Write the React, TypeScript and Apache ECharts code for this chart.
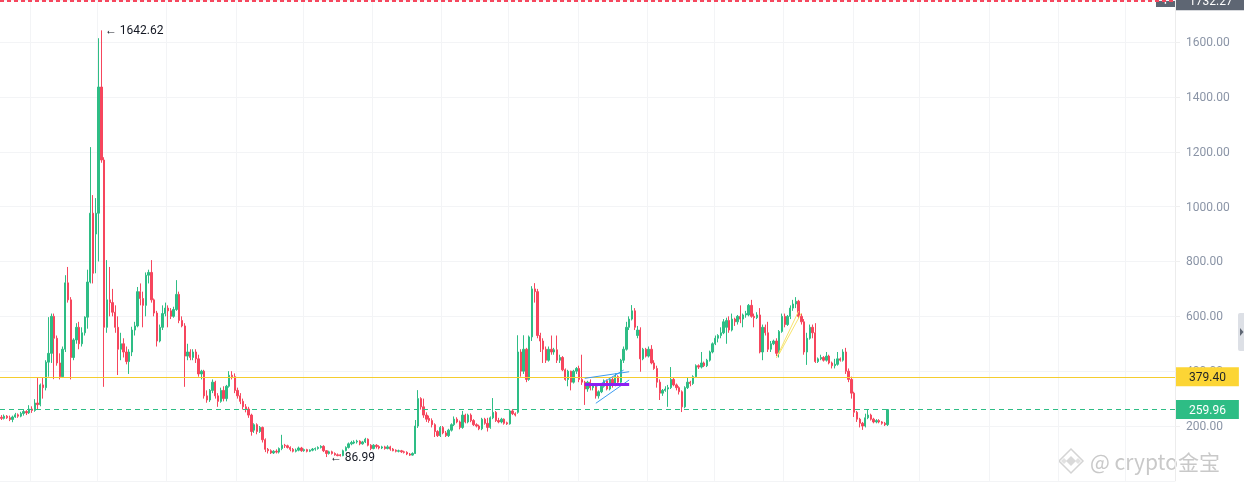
import React, { useEffect, useRef } from "react";
import * as echarts from "echarts";

// [open, close, low, high]
const candles: number[][] = [
  [232,228,222,240],[228,236,224,242],[236,230,226,240],[230,224,218,238],[224,233,214,238],
  [233,241,230,248],[241,236,230,246],[236,246,232,252],[246,253,238,262],[253,248,240,258],
  [248,262,244,276],[262,257,248,272],[257,284,252,298],[284,278,262,375],[278,350,272,355],
  [350,340,300,375],[340,433,330,440],[433,465,380,597],[465,600,430,610],[600,520,371,610],
  [520,430,420,530],[430,380,370,465],[380,480,375,490],[480,722,470,750],[722,660,650,780],
  [660,450,370,670],[450,514,440,520],[514,560,500,575],[560,500,480,580],[500,540,490,560],
  [540,597,530,600],[597,725,555,770],[725,976,720,1217],[976,757,720,1042],[900,976,757,1031],
  [976,1436,800,1614],[1436,1170,1160,1642.62],[1170,560,343,1180],[560,660,540,805],[660,650,600,780],
  [650,615,600,700],[615,560,540,640],[560,480,386,600],[480,500,440,540],[500,470,450,520],
  [470,435,425,490],[435,470,390,480],[470,550,455,562],[550,565,530,580],[565,690,560,707],
  [690,665,640,720],[665,640,560,690],[640,750,600,760],[750,760,720,770],[760,660,650,805],
  [660,612,600,665],[612,510,490,620],[510,560,505,570],[560,610,550,640],[610,630,600,650],
  [630,620,560,640],[620,600,590,630],[600,625,595,635],[625,680,620,732],[680,585,575,690],
  [585,565,560,600],[565,455,343,575],[455,470,440,500],[470,450,440,480],[450,470,440,480],
  [470,445,430,480],[445,390,380,460],[390,400,370,405],[400,310,300,405],[310,295,285,330],
  [295,330,288,335],[330,360,320,370],[360,310,300,365],[310,290,270,320],[290,330,285,340],
  [330,300,290,345],[300,345,290,350],[345,385,340,400],[385,380,370,400],[380,330,320,392],
  [330,310,300,340],[310,290,280,320],[290,270,260,300],[270,262,250,280],[262,240,230,270],
  [240,180,165,245],[185,205,175,210],[205,180,170,210],[180,195,175,200],[195,150,140,198],
  [150,115,105,155],[115,110,100,120],[110,102,98,115],[102,108,98,112],[108,105,100,115],
  [105,118,100,122],[118,130,112,168],[130,128,120,135],[128,122,118,132],[122,115,108,126],
  [115,108,104,120],[108,112,104,118],[112,120,108,125],[120,110,106,124],[110,114,106,118],
  [114,108,104,117],[108,112,105,115],[112,116,108,120],[116,118,110,122],[118,122,114,126],
  [122,126,118,130],[126,110,105,130],[110,100,86.99,112],[100,106,96,110],[106,100,96,110],
  [100,95,92,104],[95,92,90,100],[95,92,89,98],[92,110,90,114],[110,122,108,126],
  [122,135,118,140],[135,140,130,146],[138,142,134,148],[142,145,136,150],[145,135,130,148],
  [135,142,132,146],[142,152,138,157],[152,130,126,155],[130,118,112,134],[118,130,115,134],
  [130,125,118,134],[125,120,115,130],[120,124,116,128],[124,118,114,128],[118,124,115,130],
  [124,116,110,128],[116,110,108,120],[112,108,104,115],[108,110,104,114],[110,106,102,113],
  [106,104,100,110],[104,98,94,108],[98,94,91,102],[94,100,92,104],[100,200,98,222],
  [200,300,193,331],[300,270,260,305],[270,240,230,300],[240,225,215,250],[228,220,212,238],
  [220,205,195,228],[205,180,160,210],[180,165,160,185],[165,195,160,200],[195,175,170,200],
  [175,165,160,182],[165,185,160,190],[185,205,180,210],[205,225,200,235],[225,215,210,232],
  [215,195,188,220],[195,240,190,255],[240,215,210,245],[215,240,210,245],[240,220,214,246],
  [220,205,200,225],[205,200,195,210],[200,190,185,205],[190,225,185,230],[225,210,205,230],
  [210,195,180,230],[195,230,190,235],[230,250,225,302],[250,220,215,255],[220,215,210,230],
  [215,225,210,230],[225,210,205,228],[212,208,204,216],[208,255,205,260],[255,245,240,262],
  [245,240,235,250],[250,470,245,531],[470,400,380,480],[400,480,390,531],[480,370,360,485],
  [370,525,365,530],[525,700,510,710],[700,690,650,721],[690,530,520,700],[530,510,470,540],
  [510,480,430,520],[480,440,430,490],[440,480,435,490],[480,470,460,530],[470,478,460,485],
  [478,440,430,530],[440,450,430,460],[450,405,400,455],[405,370,365,410],[370,400,345,405],
  [400,360,330,402],[360,400,355,405],[400,410,390,415],[410,370,360,420],[370,360,350,460],
  [360,335,277,365],[335,360,325,365],[360,340,330,370],[340,350,330,355],[350,310,300,355],
  [310,325,300,330],[325,345,320,350],[345,365,340,370],[365,335,330,370],[335,370,330,375],
  [370,350,340,380],[350,380,345,392],[380,360,350,385],[360,440,355,445],[440,480,430,490],
  [480,560,475,580],[560,590,550,600],[590,620,585,641],[620,560,550,630],[530,550,520,565],
  [550,445,398,560],[445,480,440,485],[480,455,450,485],[455,480,450,490],[480,430,425,495],
  [430,410,405,440],[410,360,340,420],[360,320,295,370],[320,330,310,335],[330,335,325,345],
  [335,340,270,350],[340,370,335,415],[370,350,345,375],[350,340,330,355],[340,325,315,345],
  [325,270,251,330],[270,340,265,345],[340,360,335,375],[360,355,345,365],[355,380,350,385],
  [380,420,375,425],[420,415,408,425],[415,430,410,470],[430,420,415,435],[420,440,415,445],
  [440,470,435,475],[470,500,465,505],[500,520,495,530],[520,530,505,535],[530,540,520,560],
  [540,580,535,590],[560,585,500,595],[585,550,540,600],[550,590,545,610],[590,580,565,595],
  [580,600,570,605],[600,590,575,640],[590,605,560,610],[605,610,595,620],[605,640,600,645],
  [640,600,595,660],[600,595,560,610],[595,605,590,615],[605,470,465,630],[470,560,440,570],
  [560,540,530,570],[540,480,470,580],[480,500,470,510],[500,510,495,515],[510,465,455,520],
  [465,545,450,550],[545,600,540,610],[600,570,560,610],[570,600,565,605],[600,630,590,640],
  [630,645,620,660],[645,655,630,670],[655,600,590,660],[600,580,570,610],[580,470,460,590],
  [470,520,423,540],[520,560,515,570],[560,540,520,570],[540,435,430,575],[435,445,430,450],
  [445,450,440,460],[450,440,435,455],[440,455,435,470],[455,430,425,460],[430,420,410,435],
  [420,425,410,445],[425,445,420,470],[445,440,435,450],[440,470,435,480],[470,400,390,485],
  [400,370,360,410],[370,320,300,380],[320,250,233,325],[250,225,215,255],[225,210,195,230],
  [210,200,186,215],[200,230,195,245],[230,240,225,262],[240,225,220,245],[225,215,210,230],
  [215,220,210,225],[220,215,210,225],[215,210,205,218],[210,205,200,215],[205,259.96,200,262],
];

const totalSlots = 423;
const categories = Array.from({ length: totalSlots }, (_, i) => `D${i + 1}`);
const gridLineSlots = [11, 35, 60, 85, 109, 134, 159, 183, 208, 233, 257, 282, 307, 331, 356, 381, 405];
const yMin = 0;
const yMax = 1753.3;
const yInterval = 200;
const lastPrice = 259.96;
const levelPrice = 379.4;
const topLineLevel = 1751;
const topLineLabel = "1732.27";
const blueLines = [
  [[210, 374], [226, 398]],
  [[214, 343], [224, 404]],
  [[214, 283], [226, 368]],
];
const purpleLine = [[210, 353], [226, 353]];
const yellowLines = [
  [[279, 448], [287, 619]],
  [[280, 463], [288, 612]],
];

const UP = "#2EBD85";
const DOWN = "#F6465D";
const FONT = "Roboto, 'Noto Sans', sans-serif";

function seg(pts: number[][], color: string, width: number) {
  return [
    { coord: pts[0], lineStyle: { color, width, type: "solid" }, label: { show: false } },
    { coord: pts[1] },
  ];
}

export default function App() {
  const ref = useRef<HTMLDivElement>(null);
  useEffect(() => {
    document.body.style.margin = "0";
    const chart = echarts.init(ref.current!, undefined, { renderer: "svg" });
    const priceLabel = (text: string, bg: string, fg: string) => ({
      show: true,
      position: "end",
      distance: 1,
      formatter: text,
      color: fg,
      backgroundColor: bg,
      fontSize: 12,
      fontFamily: FONT,
      padding: [4, 13, 3, 13],
    });
    chart.setOption({
      animation: false,
      grid: { left: 0, right: 69, top: 0, bottom: 5.1 },
      xAxis: {
        type: "category",
        data: categories,
        boundaryGap: true,
        axisLine: { show: false },
        axisTick: { show: false },
        axisLabel: { show: false },
        splitLine: {
          show: true,
          interval: (index: number) => gridLineSlots.includes(index),
          lineStyle: { color: "#f3f4f6", width: 1 },
        },
      },
      yAxis: {
        type: "value",
        position: "right",
        min: yMin,
        max: yMax,
        interval: yInterval,
        axisLine: { show: true, lineStyle: { color: "#ececec" } },
        axisTick: { show: true, length: 5, lineStyle: { color: "#f0f0f0" } },
        axisLabel: {
          color: "#8a94a6",
          fontSize: 12,
          fontFamily: FONT,
          margin: 11,
          showMinLabel: false,
          showMaxLabel: false,
          formatter: (v: number) => v.toFixed(2),
        },
        splitLine: { show: true, lineStyle: { color: "#f3f4f6" } },
      },
      series: [
        {
          type: "candlestick",
          data: candles,
          barWidth: 1.8,
          clip: false,
          itemStyle: {
            color: UP,
            color0: DOWN,
            borderColor: UP,
            borderColor0: DOWN,
            borderWidth: 1,
          },
          markPoint: {
            symbol: "circle",
            symbolSize: 1,
            itemStyle: { color: "rgba(0,0,0,0)" },
            label: {
              show: true,
              position: "right",
              distance: 3,
              color: "#131722",
              fontSize: 12,
              fontFamily: FONT,
              formatter: (p: any) => "← " + Number(p.value).toFixed(2),
            },
            data: [
              { type: "max", valueDim: "highest" },
              { type: "min", valueDim: "lowest" },
            ],
          },
          markLine: {
            symbol: ["none", "none"],
            silent: true,
            precision: 2,
            data: [
              {
                yAxis: levelPrice,
                lineStyle: { color: "#F5CD2E", width: 1, type: "solid" },
                label: priceLabel(levelPrice.toFixed(2), "#FCD535", "#1E2329"),
              },
              {
                yAxis: lastPrice,
                lineStyle: { color: UP, width: 1, type: [5, 4] },
                label: priceLabel(lastPrice.toFixed(2), UP, "#ffffff"),
              },
              {
                yAxis: topLineLevel,
                lineStyle: { color: DOWN, width: 2, type: [4, 3] },
                label: priceLabel(topLineLabel, "#5E6673", "#ffffff"),
              },
              ...blueLines.map((l) => seg(l, "#3D9BF0", 1)),
              seg(purpleLine, "#8E1EF2", 3),
              ...yellowLines.map((l) => seg(l, "#F7E36A", 1)),
            ],
          },
        },
      ],
      graphic: [
        {
          type: "rect",
          shape: { x: 1156, y: -12, width: 19, height: 19 },
          style: { fill: "#5E6673" },
        },
        {
          type: "text",
          x: 1165.5,
          y: 0,
          style: { text: "+", fill: "#ffffff", fontSize: 14, align: "center", verticalAlign: "middle", fontFamily: FONT },
        },
        {
          type: "rect",
          shape: { x: 1238, y: 313, width: 8, height: 38, r: 2 },
          style: { fill: "#DDE0E6" },
        },
        {
          type: "polygon",
          shape: { points: [[1240, 328], [1240, 336], [1243.5, 332]] },
          style: { fill: "#5E6673" },
        },
        {
          type: "group",
          x: 1071,
          y: 461,
          children: [
            { type: "polygon", shape: { points: [[0, -12], [12, 0], [0, 12], [-12, 0]] }, style: { fill: "none", stroke: "#d4d4d4", lineWidth: 1.5 } },
            { type: "polygon", shape: { points: [[0, -5], [5, 0], [0, 5], [-5, 0]] }, style: { fill: "#d9d9d9" } },
            { type: "polygon", shape: { points: [[-7, -3], [-4, 0], [-7, 3], [-10, 0]] }, style: { fill: "#e2e2e2" } },
            { type: "polygon", shape: { points: [[7, -3], [10, 0], [7, 3], [4, 0]] }, style: { fill: "#e2e2e2" } },
          ],
        },
        {
          type: "text",
          x: 1090,
          y: 461,
          style: {
            text: "@ crypto金宝",
            fill: "#c9c9c9",
            fontSize: 21,
            fontFamily: "'Noto Sans CJK SC', 'Noto Sans', sans-serif",
            verticalAlign: "middle",
          },
        },
      ],
    });
    return () => chart.dispose();
  }, []);
  return <div ref={ref} style={{ position: "fixed", left: 0, top: 0, width: 1244, height: 486 }} />;
}
